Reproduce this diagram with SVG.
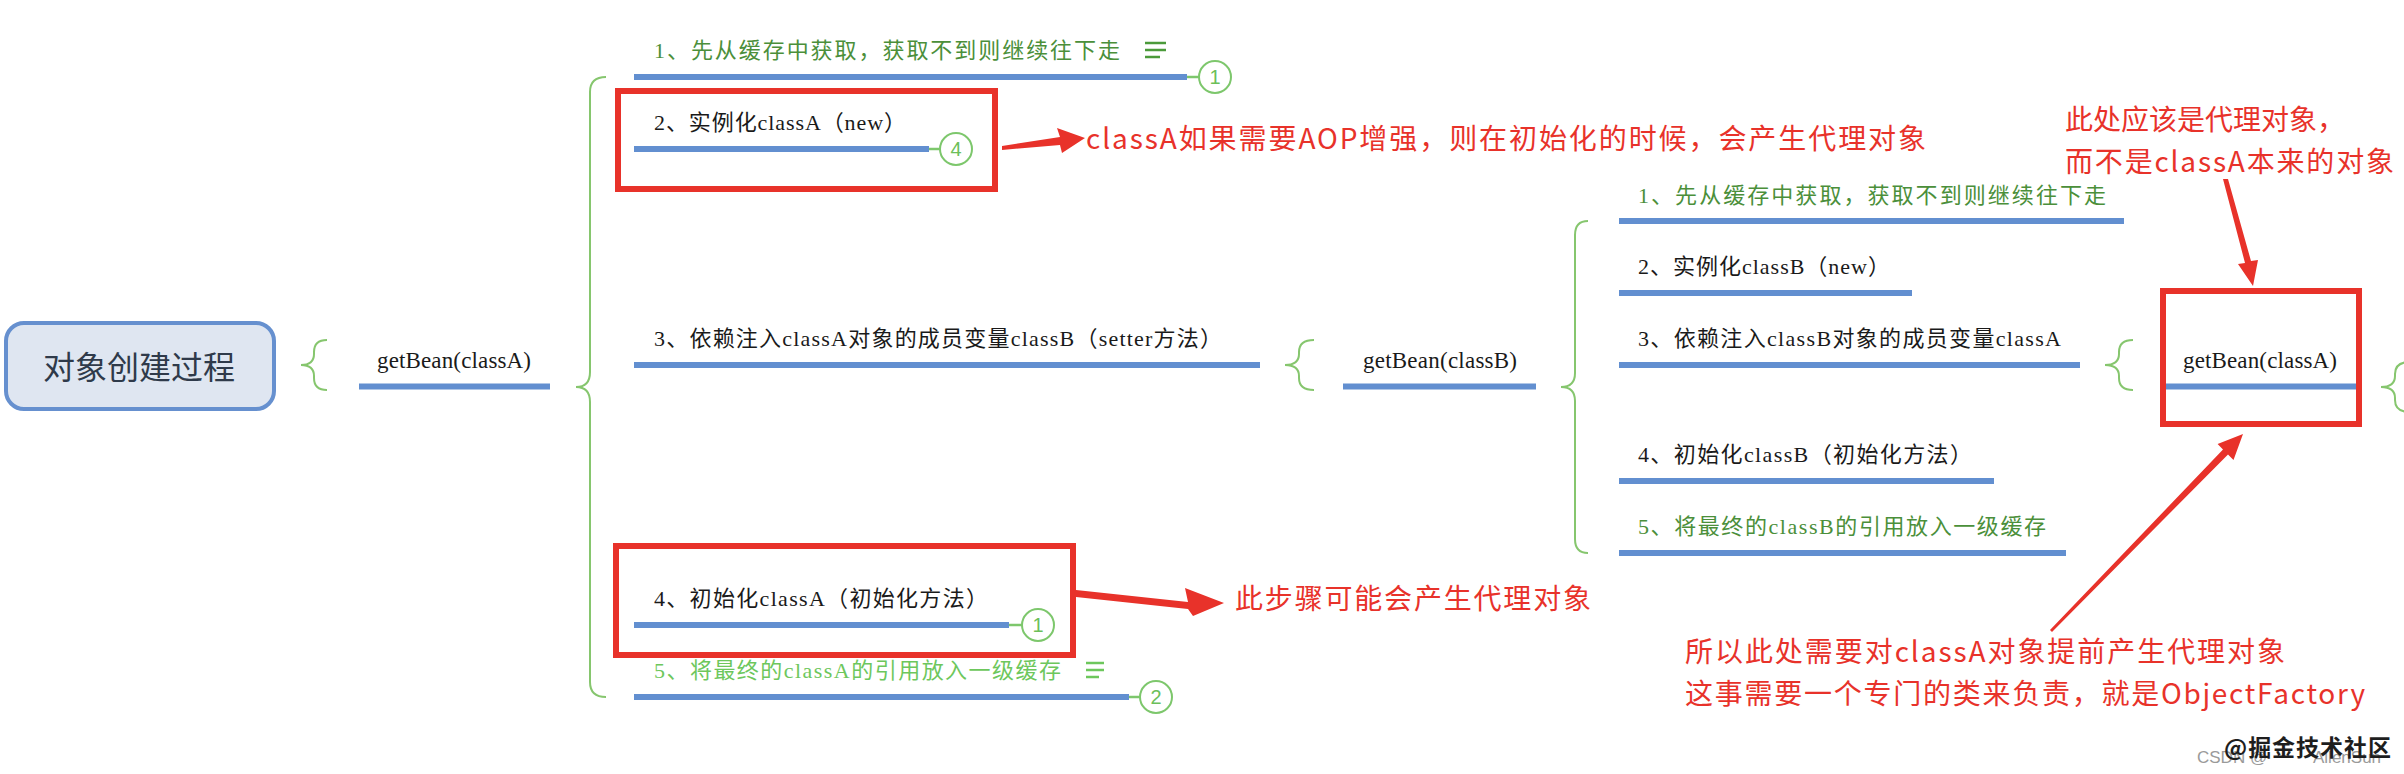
<svg xmlns="http://www.w3.org/2000/svg" width="2404" height="774" viewBox="0 0 2404 774">
<defs>
<style>
.bg{fill:#ffffff}
.t{font-family:"Liberation Serif","Noto Sans CJK SC",serif;font-size:22px;fill:#1a1a1a}
.tg{fill:#4b8f3a}
.tl{fill:#6dc75c}
.gb{font-family:"Liberation Serif","Noto Sans CJK SC",serif;font-size:23px;fill:#1a1a1a}
.ul{stroke:#628fd0;stroke-width:6;fill:none}
.br{stroke:#86c66e;stroke-width:2;fill:none}
.cn{stroke:#7dc76c;stroke-width:2.5;fill:none}
.cc{stroke:#7dc76c;stroke-width:2;fill:#ffffff}
.cnum{font-family:"Liberation Sans",sans-serif;font-size:20px;fill:#6cbf5a;text-anchor:middle}
.note{stroke:#4b9a3a;stroke-width:2.5}
.note2{stroke:#6dc75c;stroke-width:2.5}
.rb{stroke:#e8322a;stroke-width:6;fill:none}
.ra{fill:#e8322a}
.rt{font-family:"Noto Sans CJK SC","Liberation Sans",sans-serif;font-size:28px;fill:#e8322a}
</style>
</defs>
<rect class="bg" x="0" y="0" width="2404" height="774"/>

<g id="connectors">
<path class="br" d="M 327 340 Q 314 340 314 352 L 314 354 Q 314 365 301 365 Q 314 365 314 376 L 314 378 Q 314 390 327 390"/>
<path class="br" d="M 606 77 Q 590 77 590 92 L 590 372 Q 590 387 576 387 Q 590 387 590 402 L 590 682 Q 590 697 606 697"/>
<path class="br" d="M 1314 340 Q 1299 340 1299 352 L 1299 354 Q 1299 365 1285 365 Q 1299 365 1299 376 L 1299 378 Q 1299 390 1314 390"/>
<path class="br" d="M 1588 221 Q 1575 221 1575 235 L 1575 373 Q 1575 387 1561 387 Q 1575 387 1575 401 L 1575 539 Q 1575 553 1588 553"/>
<path class="br" d="M 2133 340 Q 2119 340 2119 352 L 2119 354 Q 2119 365 2105 365 Q 2119 365 2119 376 L 2119 378 Q 2119 390 2133 390"/>
<path class="br" d="M 2410 362 Q 2395 362 2395 374 L 2395 376 Q 2395 387 2381 387 Q 2395 387 2395 398 L 2395 400 Q 2395 412 2410 412"/>
<line class="cn" x1="1187" y1="77" x2="1199" y2="77"/>
<line class="cn" x1="929" y1="149" x2="940" y2="149"/>
<line class="cn" x1="1009" y1="625" x2="1022" y2="625"/>
<line class="cn" x1="1129" y1="697" x2="1140" y2="697"/>
</g>

<g id="root">
<rect x="6" y="323" width="268" height="86" rx="18" ry="18" fill="#dfe6f1" stroke="#6690cf" stroke-width="4"/>
<text x="139" y="379" font-family="Noto Sans CJK SC,sans-serif" font-size="32" fill="#2f3a4a" text-anchor="middle">对象创建过程</text>
</g>

<g id="getBeanA">
<text class="gb" x="377" y="368" textLength="154" lengthAdjust="spacing">getBean(classA)</text>
<line class="ul" x1="359" y1="386.5" x2="550" y2="386.5"/>
</g>

<g id="a1">
<text class="t tg" x="654" y="58" textLength="466" lengthAdjust="spacing">1、先从缓存中获取，获取不到则继续往下走</text>
<line class="note" x1="1145" y1="43" x2="1166" y2="43"/>
<line class="note" x1="1145" y1="50" x2="1166" y2="50"/>
<line class="note" x1="1145" y1="57" x2="1160" y2="57"/>
<line class="ul" x1="634" y1="77" x2="1187" y2="77"/>
<circle class="cc" cx="1215" cy="77" r="16"/>
<text class="cnum" x="1215" y="84">1</text>
</g>

<g id="a2">
<text class="t" x="654" y="130" textLength="252" lengthAdjust="spacing">2、实例化classA（new）</text>
<line class="ul" x1="634" y1="149" x2="929" y2="149"/>
<circle class="cc" cx="956" cy="149" r="16"/>
<text class="cnum" x="956" y="156">4</text>
</g>

<g id="a3">
<text class="t" x="654" y="346" textLength="568" lengthAdjust="spacing">3、依赖注入classA对象的成员变量classB（setter方法）</text>
<line class="ul" x1="634" y1="365" x2="1260" y2="365"/>
</g>

<g id="a4">
<text class="t" x="654" y="606" textLength="334" lengthAdjust="spacing">4、初始化classA（初始化方法）</text>
<line class="ul" x1="634" y1="625" x2="1009" y2="625"/>
<circle class="cc" cx="1038" cy="625" r="16"/>
<text class="cnum" x="1038" y="632">1</text>
</g>

<g id="a5">
<text class="t tl" x="654" y="678" textLength="407" lengthAdjust="spacing">5、将最终的classA的引用放入一级缓存</text>
<line class="note2" x1="1086" y1="663" x2="1104" y2="663"/>
<line class="note2" x1="1086" y1="670" x2="1104" y2="670"/>
<line class="note2" x1="1086" y1="677" x2="1099" y2="677"/>
<line class="ul" x1="634" y1="697" x2="1129" y2="697"/>
<circle class="cc" cx="1156" cy="697" r="16"/>
<text class="cnum" x="1156" y="704">2</text>
</g>

<g id="getBeanB">
<text class="gb" x="1363" y="368" textLength="154" lengthAdjust="spacing">getBean(classB)</text>
<line class="ul" x1="1343" y1="386.5" x2="1536" y2="386.5"/>
</g>

<g id="b1">
<text class="t tg" x="1638" y="203" textLength="468" lengthAdjust="spacing">1、先从缓存中获取，获取不到则继续往下走</text>
<line class="ul" x1="1619" y1="221" x2="2124" y2="221"/>
</g>
<g id="b2">
<text class="t" x="1638" y="274" textLength="252" lengthAdjust="spacing">2、实例化classB（new）</text>
<line class="ul" x1="1619" y1="293" x2="1912" y2="293"/>
</g>
<g id="b3">
<text class="t" x="1638" y="346" textLength="423" lengthAdjust="spacing">3、依赖注入classB对象的成员变量classA</text>
<line class="ul" x1="1619" y1="365" x2="2080" y2="365"/>
</g>
<g id="b4">
<text class="t" x="1638" y="462" textLength="334" lengthAdjust="spacing">4、初始化classB（初始化方法）</text>
<line class="ul" x1="1619" y1="481" x2="1994" y2="481"/>
</g>
<g id="b5">
<text class="t tg" x="1638" y="534" textLength="408" lengthAdjust="spacing">5、将最终的classB的引用放入一级缓存</text>
<line class="ul" x1="1619" y1="553" x2="2066" y2="553"/>
</g>

<g id="getBeanA2">
<text class="gb" x="2183" y="368" textLength="154" lengthAdjust="spacing">getBean(classA)</text>
<line class="ul" x1="2165" y1="386.5" x2="2357" y2="386.5"/>
</g>

<g id="annotations">
<rect class="rb" x="618" y="91" width="377" height="98"/>
<polygon class="ra" points="1002,146 1060,137 1057,128 1085,138 1062,153 1060,145 1002,150"/>
<text class="rt" x="1086" y="149" textLength="840" lengthAdjust="spacing">classA如果需要AOP增强，则在初始化的时候，会产生代理对象</text>

<rect class="rb" x="616" y="546" width="457" height="109"/>
<polygon class="ra" points="1076,590 1188,602 1185,588 1224,603 1193,616 1188,609 1076,597"/>
<text class="rt" x="1235" y="609" textLength="356" lengthAdjust="spacing">此步骤可能会产生代理对象</text>

<rect class="rb" x="2163" y="291" width="196" height="133"/>
<text class="rt" x="2065" y="130">此处应该是代理对象，</text>
<text class="rt" x="2065" y="172" textLength="329" lengthAdjust="spacing">而不是classA本来的对象</text>
<polygon class="ra" points="2223,179 2228,179 2251,261 2258,260 2253,286 2238,264 2245,263"/>

<polygon class="ra" points="2050,630 2223,449.6 2217.6,444 2243,434 2233.5,460 2228,454.4 2052,632"/>
<text class="rt" x="1685" y="662" textLength="600" lengthAdjust="spacing">所以此处需要对classA对象提前产生代理对象</text>
<text class="rt" x="1685" y="704" textLength="680" lengthAdjust="spacing">这事需要一个专门的类来负责，就是ObjectFactory</text>
</g>

<g id="watermark">
<text x="2197" y="763" font-family="Liberation Sans,sans-serif" font-size="17" fill="#9a9a9a">CSDN @<tspan x="2313">AllenSun</tspan></text>
<text x="2224" y="756" font-family="Noto Sans CJK SC,sans-serif" font-size="23" font-weight="bold" fill="#1e1e1e" textLength="167" lengthAdjust="spacing">@掘金技术社区</text>
</g>
</svg>
